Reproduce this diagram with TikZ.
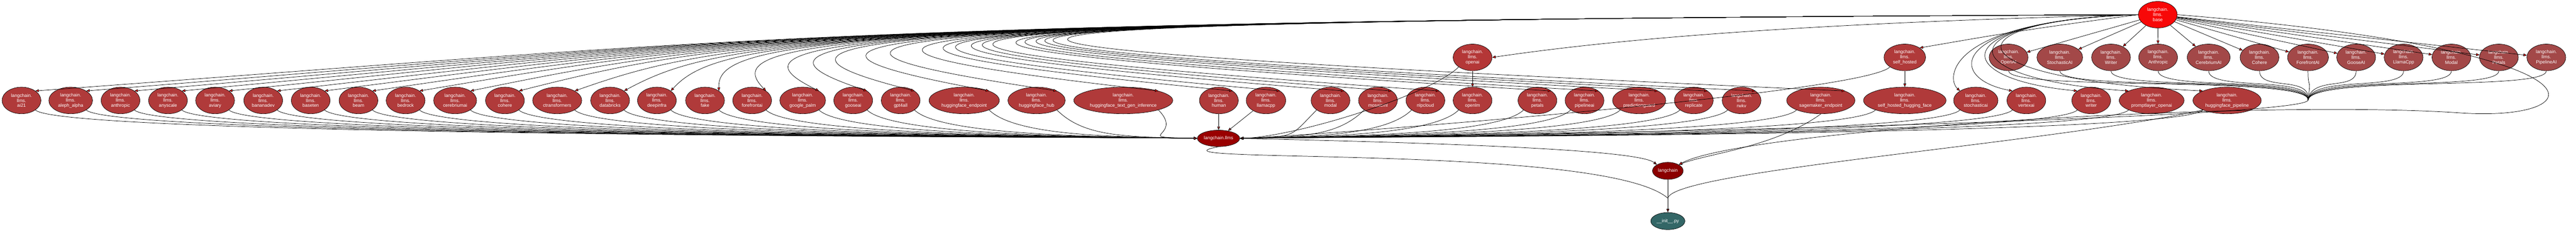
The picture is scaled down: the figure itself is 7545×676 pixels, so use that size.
\documentclass[tikz,border=0pt]{standalone}
\usepackage{fontspec}
\setmainfont{Liberation Sans}
\usetikzlibrary{shapes.geometric,arrows.meta}
\definecolor{cbase}{HTML}{F80808}
\definecolor{crow}{HTML}{B03A3A}
\definecolor{ccap}{HTML}{A34848}
\definecolor{cllms}{HTML}{990000}
\definecolor{clc}{HTML}{8B0000}
\definecolor{cinit}{HTML}{336666}
\tikzset{
  mod/.style={ellipse,draw=black,line width=1pt,fill=crow,text=white,inner sep=0pt,align=center,
    font=\fontsize{13.5}{15}\selectfont,minimum height=78pt},
  redtip/.style={line width=1.1pt,-{Triangle[length=10pt,width=8pt,fill=red]}},
  browntip/.style={line width=1.1pt,-{Triangle[length=10pt,width=8pt,fill=crow]}},
  darktip/.style={line width=1.1pt,-{Triangle[length=10pt,width=8pt,fill=clc]}},
}
\begin{document}
\begin{tikzpicture}[x=1pt,y=-1pt]
\useasboundingbox (0,0) rectangle (7545,676);
% top
\node[mod,fill=cbase,minimum width=114pt] (base) at (6320,43) {langchain.\\llms.\\base};
% row 2
\foreach \nm/\x/\r/\lb in {
 ai21/63/57/ai21, aleph/207/64/aleph\_alpha, anthropic/353/57/anthropic, anyscale/492/57/anyscale,
 aviary/630/57/aviary, banana/771/57/bananadev, baseten/910/57/baseten, beam/1050/57/beam,
 bedrock/1188/57/bedrock, cerebrium/1333/63/cerebriumai, cohere/1479/57/cohere,
 ctrans/1632/72/ctransformers, databricks/1787/57/databricks, deepinfra/1924/57/deepinfra,
 fake/2065/57/fake, forefront/2203/57/forefrontai, palm/2351/67/google\_palm,
 gooseai/2499/57/gooseai, gptall/2638/57/gpt4all, hfend/2824/103/huggingface\_endpoint,
 hfhub/3036/84/huggingface\_hub, hftgi/3290/145/huggingface\_text\_gen\_inference,
 human/3570/57/human, llamacpp/3708/58/llamacpp, modal/3897/57/modal, mosaic/4036/57/mosaicml,
 nlp/4175/57/nlpcloud, openlm/4313/57/openlm, petals/4503/57/petals, pipeline/4641/57/pipelineai,
 predguard/4801/78/predictionguard, replicate/4961/57/replicate, rwkv/5101/57/rwkv,
 sagemaker/5333/100/sagemaker\_endpoint, shhf/5579/121/self\_hosted\_hugging\_face,
 stoch/5787/65/stochasticai, vertex/5935/57/vertexai, writer/6125/57/writer,
 plopenai/6302/95/promptlayer\_openai, hfpipe/6523/100/huggingface\_pipeline}
 {\node[mod,minimum width=2*\r] (\nm) at (\x,294) {langchain.\\llms.\\\lb};}
% row 1
\node[mod,fill=crow!95!red,minimum width=114pt] (openai) at (4313,168) {langchain.\\llms.\\openai};
\node[mod,minimum width=122pt] (selfhosted) at (5579,168) {langchain.\\llms.\\self\_hosted};
\foreach \nm/\x/\r/\lb in {
 cOpenAI/5883/57/OpenAI, cStoch/6033/67/StochasticAI, cWriter/6183/57/Writer,
 cAnthropic/6321/57/Anthropic, cCerebrium/6469/63/CerebriumAI, cCohere/6618/57/Cohere,
 cForefront/6760/60/ForefrontAI, cGoose/6901/57/GooseAI, cLlama/7040/57/LlamaCpp,
 cModal/7180/57/Modal, cPetals/7319/57/Petals, cPipeline/7458/57/PipelineAI}
 {\node[mod,fill=ccap,minimum width=2*\r] (\nm) at (\x,168) {langchain.\\llms.\\\lb};}
% bottom
\node[mod,fill=cllms,minimum width=124pt,minimum height=48pt] (llms) at (3569,405) {langchain.llms};
\node[mod,fill=clc,minimum width=90pt,minimum height=50pt] (lc) at (4885,500) {langchain};
\node[mod,fill=cinit,minimum width=100pt,minimum height=50pt] (init) at (4885,647) {\_\_init\_\_.py};
% base -> left modules
\foreach \nm in {ai21,aleph,anthropic,anyscale,aviary,banana,baseten,beam,bedrock,cerebrium,cohere,
 ctrans,databricks,deepinfra,fake,forefront,palm,gooseai,gptall,hfend,hfhub,hftgi,human,llamacpp,
 modal,mosaic,nlp,petals,pipeline,predguard,replicate,rwkv,sagemaker}
 {\draw[redtip] (base.west) .. controls (2400,60) and (2100,120) .. (\nm.north east);}
\draw[redtip] (base.west) .. controls (5200,70) and (4700,120) .. (openai.east);
\draw[redtip] (base.west) .. controls (5900,90) and (5800,110) .. (selfhosted.north east);
\foreach \nm in {stoch,vertex,writer,plopenai,hfpipe}
 {\draw[redtip] (base.west) .. controls (5700,60) and (5700,230) .. (\nm.north west);}
\foreach \nm in {cOpenAI,cStoch,cWriter,cAnthropic,cCerebrium,cCohere,cForefront,cGoose,cLlama,cModal,cPetals,cPipeline}
 {\draw[redtip] (base) -- (\nm);}
\draw[redtip] (openai) -- (openlm);
\draw[redtip] (selfhosted) -- (shhf);
% modules -> langchain.llms
\foreach \nm in {ai21,aleph,anthropic,anyscale,aviary,banana,baseten,beam,bedrock,cerebrium,cohere,
 ctrans,databricks,deepinfra,fake,forefront,palm,gooseai,gptall,hfend,hfhub,hftgi}
 {\draw[browntip] (\nm.south east) .. controls +(80,80) and (3300,400) .. (llms.west);}
\draw[browntip] (human) -- (llms);
\draw[browntip] (llamacpp) -- (llms);
\foreach \nm in {modal,mosaic,nlp,openlm,petals,pipeline,predguard,replicate,rwkv,sagemaker,shhf,
 stoch,vertex,writer,plopenai,hfpipe,openai,selfhosted}
 {\draw[browntip] (\nm.south west) .. controls +(-80,80) and (3800,400) .. (llms.east);}
\coordinate (hub) at (6760,293);
\foreach \nm in {cOpenAI,cStoch,cWriter,cAnthropic,cCerebrium,cCohere,cForefront,cGoose,cLlama,cModal,cPetals,cPipeline}
 {\draw[line width=1.1pt] (\nm.south) .. controls +(0,60) and (6770,220) .. (hub);}
\draw[browntip] (hub) .. controls (6760,340) and (5000,390) .. (llms.east);
% to langchain
\draw[darktip] (llms.east) .. controls (4300,420) and (4800,440) .. (lc.north west);
\draw[darktip] (sagemaker.south) .. controls (5200,430) and (5000,450) .. (lc.north east);
\draw[redtip] (base.east) .. controls (7700,150) and (7600,360) .. (7200,330)
  .. controls (6600,290) and (5100,380) .. (lc.north east);
\draw[darktip] (lc) -- (init);
\coordinate (joinpt) at (4885,580);
\draw[line width=1.1pt] (llms.south) .. controls (3300,480) and (4700,420) .. (joinpt);
\draw[line width=1.1pt] (hfpipe.south west) .. controls (6000,420) and (4900,500) .. (joinpt);
\end{tikzpicture}
\end{document}
